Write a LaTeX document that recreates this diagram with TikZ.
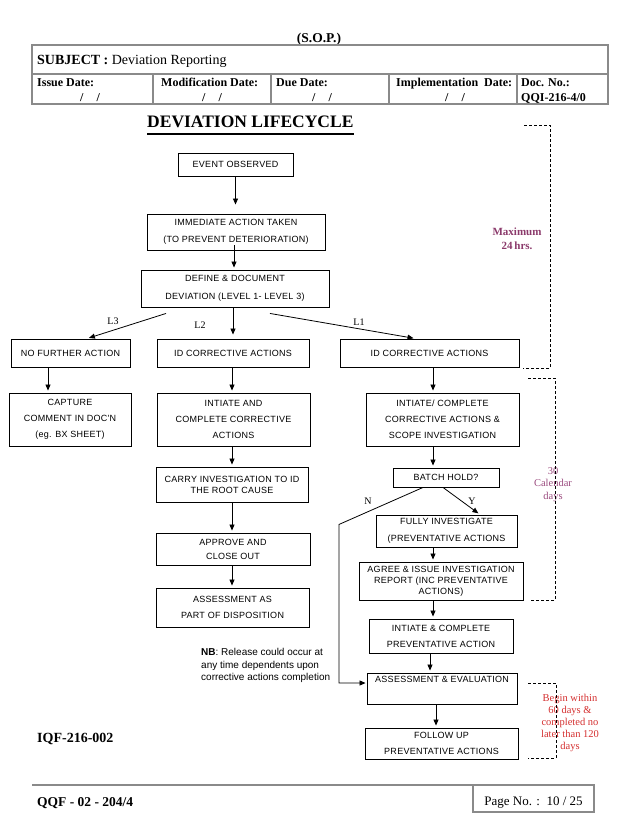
\documentclass[tikz,border=0pt]{standalone}
\usepackage{fontspec}
\setmainfont{Liberation Serif}
\newfontfamily\boxfont[LetterSpace=3]{Liberation Sans}
\newfontfamily\notefont{Liberation Sans}
\usetikzlibrary{arrows.meta}
\definecolor{plum}{HTML}{8B3A6B}
\definecolor{lilac}{HTML}{9A4A7E}
\definecolor{alertred}{HTML}{D42F2F}
\definecolor{rulegray}{HTML}{8A8A8A}

\begin{document}
\begin{tikzpicture}[
    x=1pt, y=-1pt,
    %% -- Node styles ------------------------------------------------------
    %%
    %% proc: plain process box, sans caps, fixed size given with sz.
    proc/.style={
        draw,
        line width=0.9pt,
        align=center,
        inner sep=0pt,
        font=\boxfont\fontsize{9}{16}\selectfont,
    },
    sz/.style 2 args={minimum width=#1pt, minimum height=#2pt},
    tight/.style={font=\boxfont\fontsize{9}{11}\selectfont},
    mid/.style={font=\boxfont\fontsize{9}{14}\selectfont},
    loose/.style={font=\boxfont\fontsize{9}{17.5}\selectfont},
    %% -- Header / footer text ---------------------------------------------
    hdr/.style={inner sep=0pt, anchor=base west, font=\bfseries\fontsize{12}{14}\selectfont},
    lvl/.style={inner sep=0pt, font=\fontsize{10}{12}\selectfont},
    %% -- Edge styles --------------------------------------------------------
    flow/.style={
        -{Triangle[length=6pt,width=5pt]},
        line width=0.8pt,
        shorten >=2pt,
    },
    bracket/.style={line width=0.8pt, dash pattern=on 3pt off 2pt},
    frame/.style={rulegray, line width=1.1pt},
]

\useasboundingbox (0,0) rectangle (638,826);

%% -- Page header ----------------------------------------------------------

\node[inner sep=0pt, anchor=base, font=\bfseries\fontsize{13.5}{15}\selectfont] (sop) at (319,43) {(S.O.P.)};

\draw[frame] (32,45) rectangle (608,104);
\draw[frame] (32,74) -- (608,74);
\foreach \cx in {153,271,389,517}
    \draw[frame] (\cx,74) -- (\cx,104);

\node[hdr, font=\fontsize{14}{16}\selectfont] (subj) at (37,65) {\textbf{SUBJECT :} Deviation Reporting};
\node[hdr] (issue) at (37,87)  {Issue Date:};
\node[hdr] (modif) at (161,87) {Modification Date:};
\node[hdr] (due)   at (276,87) {Due Date:};
\node[hdr] (impl)  at (396,87) {Implementation\ \ Date:};
\node[hdr] (docno) at (521,87) {Doc. No.:};
\node[hdr, anchor=base] (issued) at (90,102)  {/\hspace{13pt}/};
\node[hdr, anchor=base] (modifd) at (212,102) {/\hspace{13pt}/};
\node[hdr, anchor=base] (dued)   at (322,102) {/\hspace{13pt}/};
\node[hdr, anchor=base] (impld)  at (455,102) {/\hspace{13pt}/};
\node[hdr] (docid) at (521,102) {QQI-216-4/0};

\node[inner sep=0pt, anchor=base west, font=\bfseries\fontsize{17.5}{20}\selectfont] (title) at (147,128) {DEVIATION LIFECYCLE};
\draw[line width=1.6pt] ([yshift=-6pt]title.base west) -- ([yshift=-6pt]title.base east);

%% -- Place nodes here -----------------------------------------------------

\node[proc, sz={115}{23}]          (ev)    at (235.5,164.5) {EVENT OBSERVED};
\node[proc, sz={178}{36}, loose]   (imm)   at (236,232)     {IMMEDIATE ACTION TAKEN\\(TO PREVENT DETERIORATION)};
\node[proc, sz={188}{37}, loose]   (def)   at (235,288.5)   {DEFINE \& DOCUMENT\\DEVIATION (LEVEL 1- LEVEL 3)};

\node[proc, sz={119}{28}]          (nfa)   at (70.5,353)    {NO FURTHER ACTION};
\node[proc, sz={152}{28}]          (idcb)  at (233,353)     {ID CORRECTIVE ACTIONS};
\node[proc, sz={179}{28}]          (idca)  at (429.5,353)   {ID CORRECTIVE ACTIONS};

\node[proc, sz={122}{53}]          (cap)   at (70,419.5)    {CAPTURE\\COMMENT IN DOC'N\\(eg. BX SHEET)};
\node[proc, sz={153}{53}]          (inib)  at (233.5,419.5) {INTIATE AND\\COMPLETE CORRECTIVE\\ACTIONS};
\node[proc, sz={153}{53}]          (inia)  at (442.5,419.5) {INTIATE/ COMPLETE\\CORRECTIVE ACTIONS \&\\SCOPE INVESTIGATION};

\node[proc, sz={152}{35}, tight]   (carry) at (232,484.5)   {CARRY INVESTIGATION TO ID\\THE ROOT CAUSE};
\node[proc, sz={154}{32}, mid]     (appr)  at (233,549)     {APPROVE AND\\CLOSE OUT};
\node[proc, sz={153}{39}]          (asmt)  at (232.5,607.5) {ASSESSMENT AS\\PART OF DISPOSITION};

\node[proc, sz={106}{19}]          (batch) at (446,477.5)   {BATCH HOLD?};
\node[proc, sz={141}{32}, loose]   (fully) at (446.5,531)   {FULLY INVESTIGATE\\(PREVENTATIVE ACTIONS};
\node[proc, sz={164}{38}, tight]   (agree) at (441,581)     {AGREE \& ISSUE INVESTIGATION\\REPORT (INC PREVENTATIVE\\ACTIONS)};
\node[proc, sz={144}{34}]          (ipa)   at (441,636)     {INTIATE \& COMPLETE\\PREVENTATIVE ACTION};
\node[proc, sz={150}{31}, mid]     (ae)    at (442,688.5)   {ASSESSMENT \& EVALUATION\\\strut};
\node[proc, sz={153}{31}]          (fup)   at (441.5,743.5) {FOLLOW UP\\PREVENTATIVE ACTIONS};

%% -- Draw edges here ------------------------------------------------------

\draw[flow, shorten >=9pt] (ev.south) -- (ev.south |- imm.north);
\draw[flow] ([xshift=-2pt,yshift=5pt]imm.south) -- ([xshift=-2pt]imm.south |- def.north);

% three levels out of the definition box
\draw[flow] ([xshift=-69pt,yshift=-6pt]def.south) -- ([xshift=16.5pt]nfa.north);
\draw[flow, shorten >=4pt] (idcb.north |- def.south) -- (idcb.north);
\draw[flow] ([xshift=35pt,yshift=-6pt]def.south) -- ([xshift=-14pt]idca.north);
\node[lvl] (lthree) at (113,321) {L3};
\node[lvl] (ltwo)   at (200,325) {L2};
\node[lvl] (lone)   at (359,322) {L1};

% left column
\draw[flow] ([xshift=-22.5pt]nfa.south) -- ([xshift=-22.5pt]nfa.south |- cap.north);

% middle column
\draw[flow] ([xshift=-1pt]idcb.south) -- ([xshift=-1pt]idcb.south |- inib.north);
\draw[flow] (carry.north |- inib.south) -- (carry.north);
\draw[flow] (carry.south) -- (carry.south |- appr.north);
\draw[flow] (carry.south |- appr.south) -- (carry.south |- asmt.north);

% right column
\draw[flow] ([xshift=3.5pt]idca.south) -- ([xshift=3.5pt]idca.south |- inia.north);
\draw[flow] ([xshift=-9.5pt]inia.south) -- ([xshift=-9.5pt]inia.south |- batch.north);
\draw[flow] ([xshift=-3pt]batch.south) -- ([xshift=33.5pt]fully.north);
\draw[flow, shorten >=1pt] ([xshift=-23pt]batch.south) -- ++(-84,37) |- ([yshift=5.5pt]ae.west);
\node[lvl] (yes) at (472,501) {Y};
\node[lvl] (no)  at (368,501) {N};
\draw[flow] ([xshift=-13.5pt]fully.south) -- ([xshift=-13.5pt]fully.south |- agree.north);
\draw[flow] ([xshift=-8pt]agree.south) -- ([xshift=-8pt]agree.south |- ipa.north);
\draw[flow] ([xshift=-11pt]ipa.south) -- ([xshift=-11pt]ipa.south |- ae.north);
\draw[flow] ([xshift=-6pt]ae.south) -- ([xshift=-6pt]ae.south |- fup.north);

%% -- Notes and time brackets ----------------------------------------------

\node[inner sep=0pt, anchor=west, align=left, font=\notefont\fontsize{10}{12.5}\selectfont] (nb) at (201,665.5)
    {\textbf{NB}: Release could occur at\\any time dependents upon\\corrective actions completion};

\node[inner sep=0pt, align=center, text=plum, font=\bfseries\fontsize{11}{14}\selectfont] (maxhrs) at (517,239) {Maximum\\24\,hrs.};
\node[inner sep=0pt, align=center, text=lilac, font=\fontsize{10.5}{12.5}\selectfont] (caldays) at (553,484.5) {30\\Calendar\\days};
\node[inner sep=0pt, align=center, text=alertred, font=\fontsize{10.5}{12}\selectfont] (within) at (570,723) {Begin within\\60 days \&\\completed no\\later than 120\\days};

\draw[bracket] (524,125) -- (550,125) -- (550,368) -- (523,368);
\draw[bracket] (528,378) -- (555,378) -- (555,600) -- (530,600);
\draw[bracket] (528,683) -- (556,683) -- (556,758) -- (528,758);

%% -- Page footer ----------------------------------------------------------

\node[inner sep=0pt, anchor=base west, font=\bfseries\fontsize{14}{16}\selectfont] (formid) at (37,742.5) {IQF-216-002};
\draw[frame] (32,785) -- (473,785);
\draw[frame] (473,785) rectangle (594,812);
\node[inner sep=0pt, anchor=base, font=\fontsize{13}{15}\selectfont] (page) at (533.5,805) {Page No. :\ \ 10 / 25};
\node[inner sep=0pt, anchor=base west, font=\bfseries\fontsize{13.5}{15}\selectfont] (qqf) at (37,806) {QQF - 02 - 204/4};

\end{tikzpicture}
\end{document}
